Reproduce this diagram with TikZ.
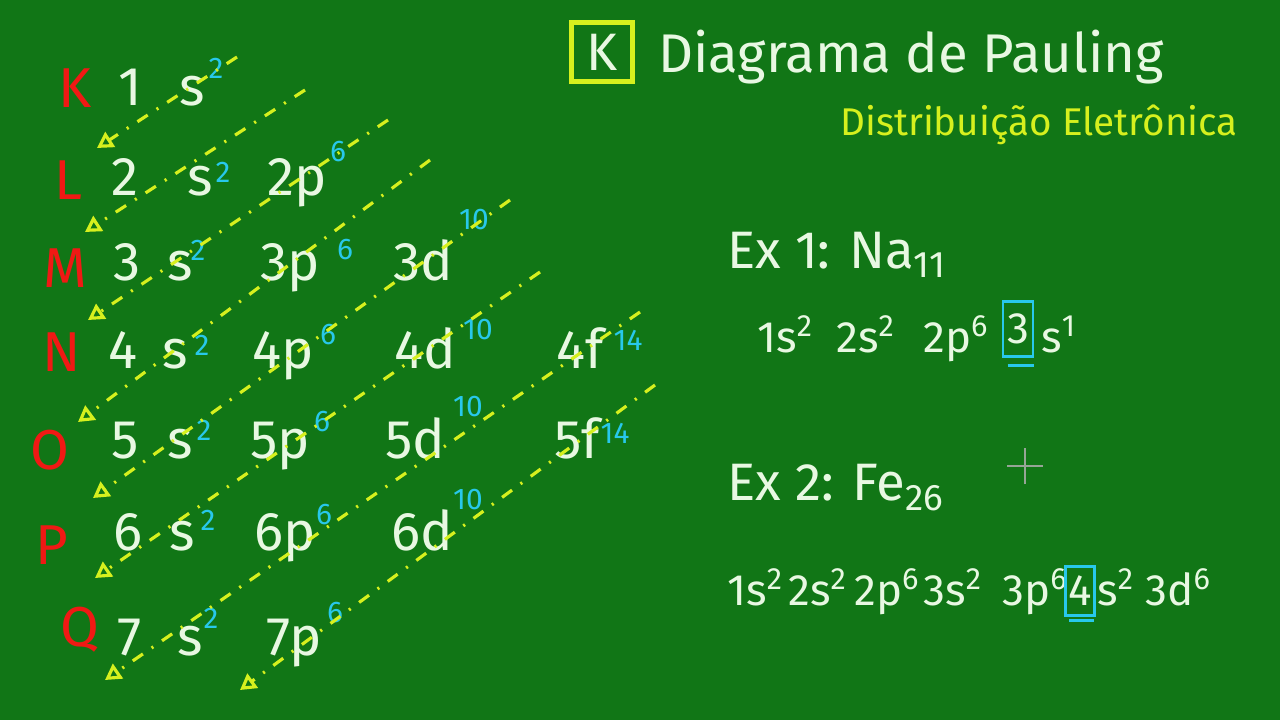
\documentclass[tikz,border=0pt]{standalone}
\usepackage{fontspec}
\setmainfont{Fira Sans}
\usetikzlibrary{arrows.meta}
\definecolor{board}{RGB}{17,118,22}
\definecolor{chalk}{RGB}{232,248,226}
\definecolor{ylw}{RGB}{214,240,30}
\definecolor{cyn}{RGB}{40,200,235}
\definecolor{rd}{RGB}{240,25,20}
\definecolor{crossg}{RGB}{150,165,150}
\begin{document}
\begin{tikzpicture}[x=0.02cm,y=-0.02cm,
  orb/.style={text=chalk, font=\fontsize{31}{31}\selectfont, anchor=base, inner sep=0pt},
  sup/.style={text=cyn, font=\fontsize{17}{17}\selectfont, inner sep=0pt},
  shell/.style={text=rd, font=\fontsize{32}{32}\selectfont, inner sep=0pt},
  diag/.style={draw=ylw, line width=1.8pt, dash pattern=on 7pt off 6pt on 1.2pt off 6pt,
    -{Triangle[open,length=9pt,width=10pt,line width=1.8pt]}},
  cfg/.style={text=chalk, font=\fontsize{25}{25}\selectfont, anchor=base west, inner sep=0pt},
  exl/.style={text=chalk, font=\fontsize{30}{30}\selectfont, anchor=base west, inner sep=0pt},
  hibox/.style={draw=cyn, line width=1.6pt, minimum width=0.6cm, minimum height=1.1cm, inner sep=0pt},
  hiline/.style={draw=cyn, line width=1.8pt}
]
\fill[board] (0,0) rectangle (1280,720);
\useasboundingbox (0,0) rectangle (1280,720);

% shells
\node[shell] (sK) at (75,88) {K};
\node[shell] (sL) at (68,180) {L};
\node[shell] (sM) at (65,268) {M};
\node[shell] (sN) at (62,352) {N};
\node[shell] (sO) at (50,450) {O};
\node[shell] (sP) at (52,545) {P};
\node[shell] (sQ) at (80,630) {Q};

% row 1
\node[orb] (n1) at (130,105) {1};
\node[orb] (o1s) at (192,105) {s};
\node[sup] (e1s) at (216,68) {2};
% row 2
\node[orb] (n2) at (125,195) {2};
\node[orb] (o2s) at (200,195) {s};
\node[sup] (e2s) at (223,172) {2};
\node[orb] (o2p) at (297,195) {2p};
\node[sup] (e2p) at (338,152) {6};
% row 3
\node[orb] (n3) at (127,280) {3};
\node[orb] (o3s) at (180,280) {s};
\node[sup] (e3s) at (198,250) {2};
\node[orb] (o3p) at (290,280) {3p};
\node[sup] (e3p) at (345,250) {6};
\node[orb] (o3d) at (423,280) {3d};
\node[sup] (e3d) at (474,220) {10};
% row 4
\node[orb] (n4) at (123,368) {4};
\node[orb] (o4s) at (175,368) {s};
\node[sup] (e4s) at (202,345) {2};
\node[orb] (o4p) at (283,368) {4p};
\node[sup] (e4p) at (328,335) {6};
\node[orb] (o4d) at (425,368) {4d};
\node[sup] (e4d) at (478,330) {10};
\node[orb] (o4f) at (580,368) {4f};
\node[sup] (e4f) at (628,340) {14};
% row 5
\node[orb] (n5) at (125,458) {5};
\node[orb] (o5s) at (180,458) {s};
\node[sup] (e5s) at (204,430) {2};
\node[orb] (o5p) at (280,458) {5p};
\node[sup] (e5p) at (322,422) {6};
\node[orb] (o5d) at (415,458) {5d};
\node[sup] (e5d) at (468,407) {10};
\node[orb] (o5f) at (577,458) {5f};
\node[sup] (e5f) at (615,433) {14};
% row 6
\node[orb] (n6) at (128,550) {6};
\node[orb] (o6s) at (182,550) {s};
\node[sup] (e6s) at (208,520) {2};
\node[orb] (o6p) at (285,550) {6p};
\node[sup] (e6p) at (324,515) {6};
\node[orb] (o6d) at (422,550) {6d};
\node[sup] (e6d) at (468,500) {10};
% row 7
\node[orb] (n7) at (130,655) {7};
\node[orb] (o7s) at (190,655) {s};
\node[sup] (e7s) at (211,618) {2};
\node[orb] (o7p) at (294,655) {7p};
\node[sup] (e7p) at (335,613) {6};

% diagonal arrows
\coordinate (d1a) at (237,57);  \coordinate (d1b) at (97,148);
\coordinate (d2a) at (305,90);  \coordinate (d2b) at (85,232);
\coordinate (d3a) at (388,120); \coordinate (d3b) at (88,320);
\coordinate (d4a) at (430,160); \coordinate (d4b) at (78,422);
\coordinate (d5a) at (510,200); \coordinate (d5b) at (93,498);
\coordinate (d6a) at (540,272); \coordinate (d6b) at (95,578);
\coordinate (d7a) at (640,312); \coordinate (d7b) at (105,680);
\coordinate (d8a) at (655,385); \coordinate (d8b) at (240,690);
\foreach \i in {1,...,8} \draw[diag] (d\i a) -- (d\i b);

% title
\node[draw=ylw, line width=2.4pt, minimum width=1.22cm, minimum height=1.18cm, inner sep=0pt,
      text=chalk, font=\fontsize{30}{30}\selectfont] (kbox) at (602,52) {K};
\node[exl, font=\fontsize{31}{31}\selectfont] (title) at (658,72) {Diagrama de Pauling};
\node[exl, text=ylw, font=\fontsize{22}{22}\selectfont] (subtitle) at (840,135) {Distribuição Eletrônica};

% example 1
\node[exl] (ex1) at (727,268) {Ex 1: Na\textsubscript{11}};
\node[cfg] (c1a) at (757,352) {1s\textsuperscript{2}};
\node[cfg] (c1b) at (836,352) {2s\textsuperscript{2}};
\node[cfg] (c1c) at (923,352) {2p\textsuperscript{6}};
\node[hibox, text=chalk, font=\fontsize{25}{25}\selectfont] (c1d) at (1018,329) {3};
\node[cfg] (c1e) at (1041,352) {s\textsuperscript{1}};
\draw[hiline] ([shift={(6,8)}]c1d.south west) -- ([shift={(0,8)}]c1d.south east);

% example 2
\node[exl] (ex2) at (727,500) {Ex 2: Fe\textsubscript{26}};
\node[cfg] (c2a) at (727,605) {1s\textsuperscript{2}};
\node[cfg] (c2b) at (788,605) {2s\textsuperscript{2}};
\node[cfg] (c2c) at (854,605) {2p\textsuperscript{6}};
\node[cfg] (c2d) at (923,605) {3s\textsuperscript{2}};
\node[cfg] (c2e) at (1002,605) {3p\textsuperscript{6}};
\node[hibox, text=chalk, font=\fontsize{25}{25}\selectfont, minimum width=0.58cm, minimum height=0.98cm] (c2f) at (1080,591) {4};
\node[cfg] (c2g) at (1097,605) {s\textsuperscript{2}};
\node[cfg] (c2h) at (1145,605) {3d\textsuperscript{6}};
\draw[hiline] ([shift={(5,4)}]c2f.south west) -- ([shift={(-2,4)}]c2f.south east);

% cursor
\draw[crossg, line width=0.8pt] (1007,466) -- (1043,466) (1025,448) -- (1025,484);
\end{tikzpicture}
\end{document}
